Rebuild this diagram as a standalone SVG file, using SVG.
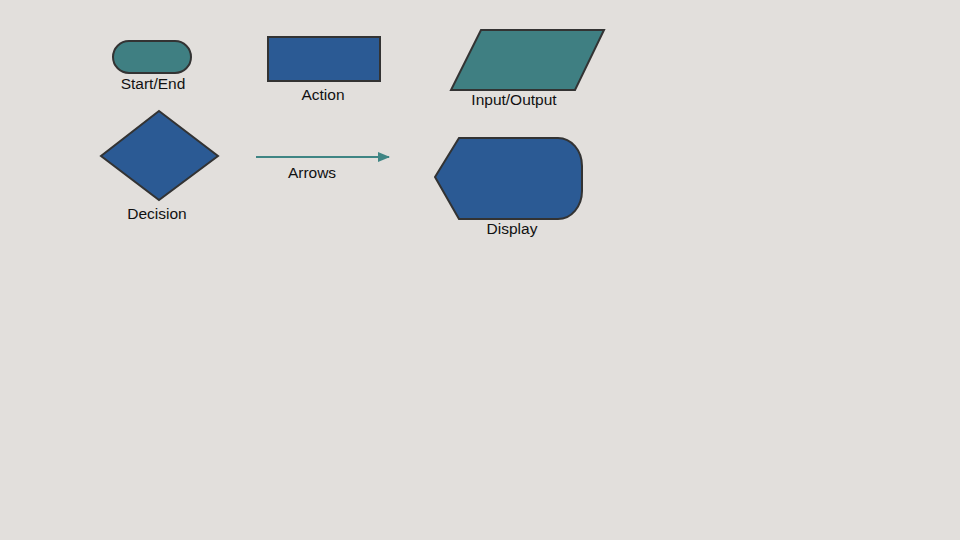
<svg xmlns="http://www.w3.org/2000/svg" width="960" height="540" viewBox="0 0 960 540">
<defs>
<style>
.lbl{font-family:"Liberation Sans",Arial,sans-serif;font-size:15.5px;fill:#111;text-anchor:middle}
.teal{fill:#3f7f82;stroke:#333;stroke-width:2}
.blue{fill:#2b5a94;stroke:#333;stroke-width:2}
.conn{stroke:#3f8584;stroke-width:2;fill:none}
</style>
<marker id="ah" markerWidth="12" markerHeight="10" refX="11" refY="5" orient="auto" markerUnits="userSpaceOnUse">
<path d="M0,0 L12,5 L0,10 Z" fill="#3f8584"/>
</marker>
</defs>
<rect width="960" height="540" fill="#e2dfdc"/>
<g id="start-end">
<rect class="teal" x="113" y="41" width="78" height="32" rx="16" ry="16"/>
<text class="lbl" x="153" y="89">Start/End</text>
</g>
<g id="action">
<rect class="blue" x="268" y="37" width="112" height="44"/>
<text class="lbl" x="323" y="100">Action</text>
</g>
<g id="input-output">
<polygon class="teal" points="481,30 604,30 575,90 451,90"/>
<text class="lbl" x="514" y="105">Input/Output</text>
</g>
<g id="decision">
<polygon class="blue" points="159,111 218,156 159,200 101,156"/>
<text class="lbl" x="157" y="219">Decision</text>
</g>
<g id="display">
<path class="blue" d="M435,177 L459,138 L558,138 A24,28 0 0 1 582,166 L582,191 A24,28 0 0 1 558,219 L459,219 Z"/>
<text class="lbl" x="512" y="234">Display</text>
</g>
<g id="connectors">
<line class="conn" x1="256" y1="157" x2="389" y2="157" marker-end="url(#ah)"/>
<text class="lbl" x="312" y="178">Arrows</text>
</g>
</svg>
